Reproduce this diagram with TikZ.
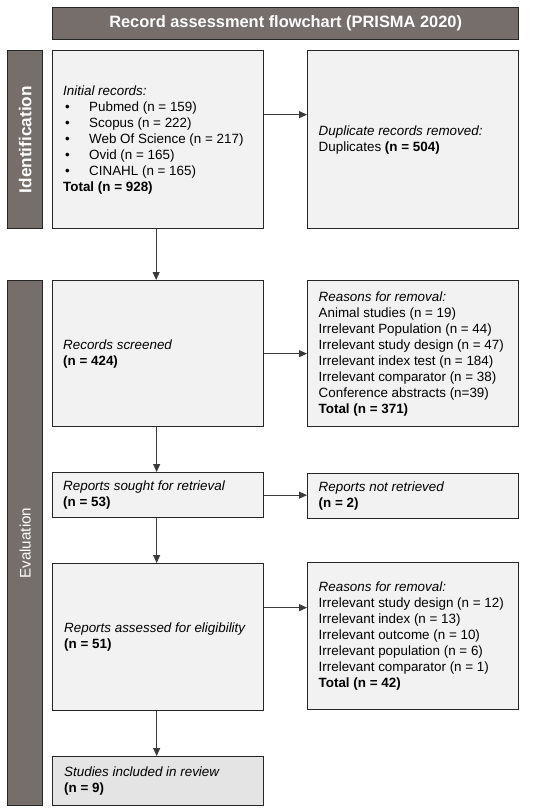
\documentclass[tikz,border=0pt]{standalone}
\usepackage{fontspec}
\setmainfont{Liberation Sans}
\usetikzlibrary{arrows.meta}
\definecolor{barc}{HTML}{766E6B}
\definecolor{boxc}{HTML}{F2F2F2}
\definecolor{boxd}{HTML}{E4E4E4}
\definecolor{edgec}{HTML}{262626}
\definecolor{arrc}{HTML}{3A3A3A}
\newcommand{\itm}[1]{\makebox[26pt][l]{\hspace*{2pt}\textbullet}#1}
\begin{document}
\begin{tikzpicture}[x=1pt,y=-1pt,
  box/.style={draw=edgec, line width=1.3pt, fill=boxc, rectangle,
    inner sep=0pt, minimum width=211pt, anchor=north west},
  txt/.style={anchor=west, align=left, inner sep=0pt,
    font=\fontsize{13.4}{16}\selectfont},
  sidebar/.style={draw=edgec, line width=1.3pt, fill=barc, rectangle,
    minimum width=35pt, inner sep=0pt, anchor=north west},
  arr/.style={draw=arrc, line width=0.9pt, -{Triangle[length=8pt,width=7pt]}}]
\useasboundingbox (0,0) rectangle (550,812);
% title
\node[draw=edgec, line width=1.3pt, fill=barc, anchor=north west, minimum width=466pt,
  minimum height=32pt, inner sep=0pt, text=white,
  font=\fontsize{16.4}{18}\selectfont\bfseries] (title) at (52,7)
  {Record assessment flowchart (PRISMA 2020)};
% side bars
\node[sidebar, minimum height=178pt] (ident) at (7,50) {};
\node[rotate=90, text=white, font=\fontsize{17.2}{19}\selectfont\bfseries] (identlbl)
  at (ident.center) {Identification};
\node[sidebar, minimum height=525pt] (eval) at (7,280) {};
\node[rotate=90, text=white, font=\fontsize{15.2}{17}\selectfont] (evallbl)
  at (eval.center) {Evaluation};
% boxes
\node[box, minimum height=178pt] (init) at (52,50) {};
\node[txt] (initt) at ([xshift=11pt]init.west) {%
  \textit{Initial records:}\\
  \itm{Pubmed (n = 159)}\\
  \itm{Scopus (n = 222)}\\
  \itm{Web Of Science (n = 217)}\\
  \itm{Ovid (n = 165)}\\
  \itm{CINAHL (n = 165)}\\
  \textbf{Total (n = 928)}};
\node[box, minimum height=178pt] (dup) at (307,50) {};
\node[txt] (dupt) at ([xshift=11.5pt]dup.west) {%
  \textit{Duplicate records removed:}\\
  Duplicates \textbf{(n = 504)}};
\node[box, minimum height=146pt] (screen) at (52,280) {};
\node[txt] (screent) at ([xshift=11pt]screen.west) {%
  \textit{Records screened}\\
  \textbf{(n = 424)}};
\node[box, minimum height=146pt] (reas1) at (307,280) {};
\node[txt] (reas1t) at ([xshift=11.5pt]reas1.west) {%
  \textit{Reasons for removal:}\\
  Animal studies (n = 19)\\
  Irrelevant Population (n = 44)\\
  Irrelevant study design (n = 47)\\
  Irrelevant index test (n = 184)\\
  Irrelevant comparator (n = 38)\\
  Conference abstracts (n=39)\\
  \textbf{Total (n = 371)}};
\node[box, minimum height=45pt] (sought) at (52,472) {};
\node[txt] (soughtt) at ([xshift=11pt]sought.west) {%
  \textit{Reports sought for retrieval}\\
  \textbf{(n = 53)}};
\node[box, minimum height=45pt] (notret) at (307,473) {};
\node[txt] (notrett) at ([xshift=11.5pt]notret.west) {%
  \textit{Reports not retrieved}\\
  \textbf{(n = 2)}};
\node[box, minimum height=147pt] (assess) at (52,563) {};
\node[txt] (assesst) at ([xshift=12pt]assess.west) {%
  \textit{Reports assessed for eligibility}\\
  \textbf{(n = 51)}};
\node[box, minimum height=147pt] (reas2) at (307,562) {};
\node[txt] (reas2t) at ([xshift=11.5pt]reas2.west) {%
  \textit{Reasons for removal:}\\
  Irrelevant study design (n = 12)\\
  Irrelevant index (n = 13)\\
  Irrelevant outcome (n = 10)\\
  Irrelevant population (n = 6)\\
  Irrelevant comparator (n = 1)\\
  \textbf{Total (n = 42)}};
\node[box, fill=boxd, minimum height=49pt] (incl) at (52,756) {};
\node[txt] (inclt) at ([xshift=12pt]incl.west) {%
  \textit{Studies included in review}\\
  \textbf{(n = 9)}};
% connectors
\draw[arr] ([yshift=25pt]init.east) coordinate (a1) -- (a1 -| dup.west);
\draw[arr] (screen.east) coordinate (a2) -- (a2 -| reas1.west);
\draw[arr] (sought.east) coordinate (a3) -- (a3 -| notret.west);
\draw[arr] ([yshift=29.5pt]assess.east) coordinate (a4) -- (a4 -| reas2.west);
\draw[arr] ([xshift=-2pt]init.south) coordinate (v1) -- (v1 |- screen.north);
\draw[arr] ([xshift=-1.5pt]screen.south) coordinate (v2) -- (v2 |- sought.north);
\draw[arr] ([xshift=-1.5pt]sought.south) coordinate (v3) -- (v3 |- assess.north);
\draw[arr] ([xshift=-1.5pt]assess.south) coordinate (v4) -- (v4 |- incl.north);
\end{tikzpicture}
\end{document}
